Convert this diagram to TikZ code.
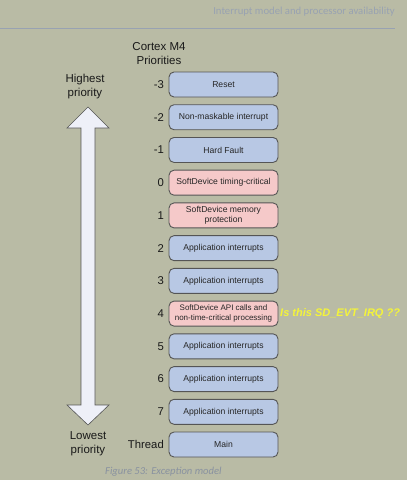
\documentclass[tikz,border=0pt]{standalone}
\usepackage{fontspec}
\setmainfont{Liberation Sans}
\newfontfamily\calib{Carlito}
\definecolor{bg}{HTML}{B9BBA5}
\definecolor{boxblue}{HTML}{B8C8E4}
\definecolor{boxpink}{HTML}{F5C9C9}
\definecolor{edgegray}{HTML}{555555}
\definecolor{hdr}{HTML}{98A2B2}
\definecolor{arrowfill}{HTML}{EEF0F8}
\definecolor{qyellow}{HTML}{F4F43A}
\begin{document}
\begin{tikzpicture}[x=1pt,y=-1pt,
  prio/.style={rectangle, rounded corners=5pt, draw=edgegray, line width=0.9pt,
    minimum width=109pt, minimum height=25pt, inner sep=1pt, align=center,
    font=\fontsize{8.6}{10.5}\selectfont, text=black!85},
  appbox/.style={prio, fill=boxblue},
  sdbox/.style={prio, fill=boxpink},
  num/.style={anchor=east, inner sep=0pt, font=\fontsize{11.3}{13}\selectfont, text=black!90},
  lbl/.style={align=center, inner sep=0pt, font=\fontsize{11.5}{14}\selectfont, text=black!90}
]
\useasboundingbox[fill=bg] (0,0) rectangle (407,480);
% header
\node[anchor=east, inner sep=0pt, text=hdr, font=\calib\fontsize{10.7}{12}\selectfont] (hdr) at (395,12) {Interrupt model and processor availability};
\coordinate (hl) at (0,28);
\coordinate (hr) at (395,28);
\draw[hdr, line width=0.8pt] (hl) -- (hr);
% titles
\node[lbl] (cortex) at (159,54) {Cortex M4\\Priorities};
\node[lbl] (high) at (85,87) {Highest\\priority};
\node[lbl] (low) at (88,444) {Lowest\\priority};
% arrow
\draw[edgegray, line width=0.6pt, fill=arrowfill, line join=miter]
  (88,107) -- (109,128) -- (95,128) -- (95,405) -- (109,405) -- (88,425)
  -- (67,405) -- (81,405) -- (81,128) -- (67,128) -- cycle;
% boxes
\def\pitch{32.73}
\foreach \i/\n/\st/\t [count=\k from 0] in {
  -3/m3/appbox/Reset,
  -2/m2/appbox/Non-maskable interrupt,
  -1/m1/appbox/Hard Fault,
  0/p0/sdbox/SoftDevice timing-critical,
  1/p1/sdbox/{SoftDevice memory\\protection},
  2/p2/appbox/Application interrupts,
  3/p3/appbox/Application interrupts} {
  \node[\st] (b\n) at (223.5,{84.5+\pitch*\k}) {\t};
  \node[num] (n\n) at (164,{84.5+\pitch*\k}) {\i};
}
\node[sdbox, font=\fontsize{8}{10}\selectfont] (bp4) at (223.5,{84.5+\pitch*7}) {SoftDevice API calls and\\non-time-critical processing};
\node[num] (np4) at (164,{84.5+\pitch*7}) {4};
\foreach \i/\n [count=\k from 8] in {5/p5,6/p6,7/p7} {
  \node[appbox] (b\n) at (223.5,{84.5+\pitch*\k}) {Application interrupts};
  \node[num] (n\n) at (164,{84.5+\pitch*\k}) {\i};
}
\node[appbox] (bmain) at (223.5,{84.5+\pitch*11}) {Main};
\node[num] (nthread) at (164,{84.5+\pitch*11}) {Thread};
% question
\node[anchor=west, inner sep=0pt, text=qyellow, font=\fontsize{11}{13}\selectfont\bfseries\itshape] (q) at (280,314) {Is this SD\_EVT\_IRQ ??};
% caption
\node[anchor=west, inner sep=0pt, text=hdr!90!black, font=\calib\itshape\fontsize{10.6}{12}\selectfont] (cap) at (105,472) {Figure 53: Exception model};
\end{tikzpicture}
\end{document}
